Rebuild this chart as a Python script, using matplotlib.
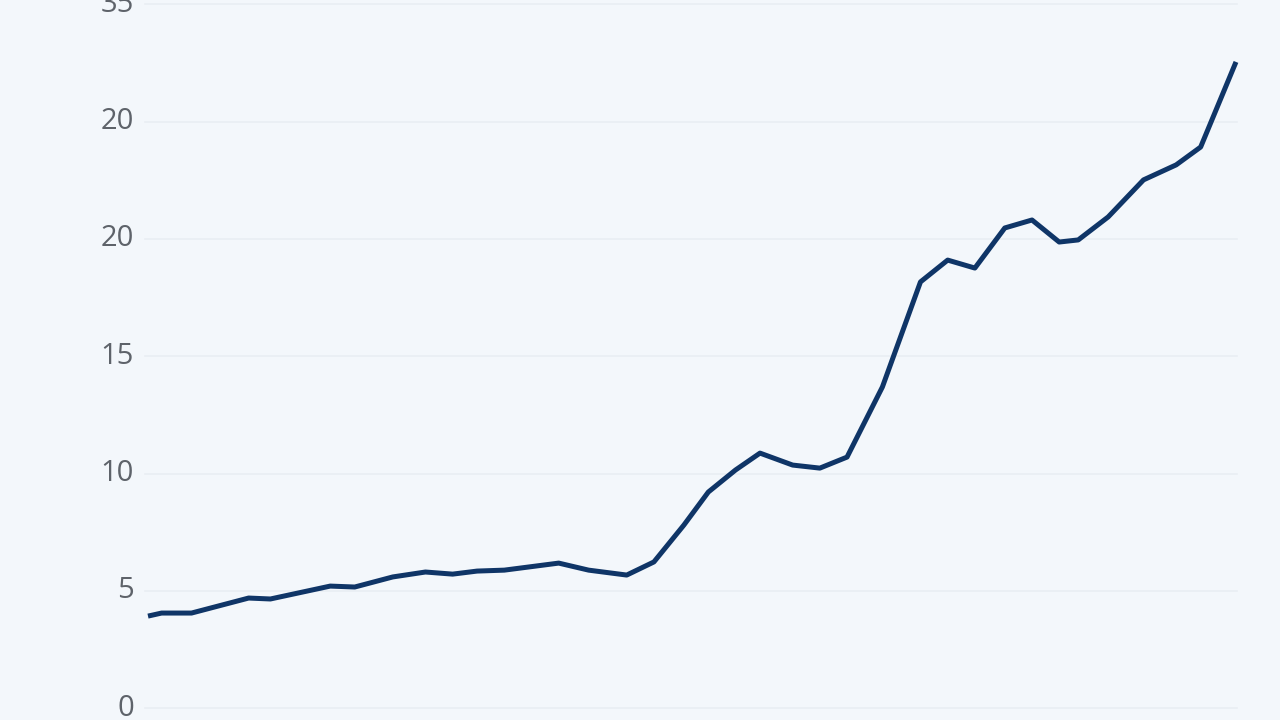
import matplotlib
matplotlib.use("Agg")
import matplotlib.pyplot as plt

# values (x as fractional years, y in units)
years = [1983.0, 1983.5, 1984.6, 1986.7, 1987.5, 1989.7, 1990.6, 1992.0, 1993.2,
         1994.2, 1995.1, 1996.1, 1998.1, 1999.2, 2000.6, 2001.6, 2002.7, 2003.6,
         2004.6, 2005.5, 2006.7, 2007.7, 2008.7, 2010.0, 2011.4, 2012.4, 2013.4,
         2014.5, 2015.5, 2016.5, 2017.2, 2018.3, 2019.6, 2020.8, 2021.7, 2023.0]
values = [3.92, 4.05, 4.05, 4.69, 4.65, 5.20, 5.16, 5.59, 5.80,
          5.71, 5.84, 5.88, 6.18, 5.88, 5.67, 6.23, 7.80, 9.21,
          10.15, 10.87, 10.36, 10.23, 10.70, 13.69, 18.17, 19.10, 18.76,
          20.47, 20.81, 19.87, 19.96, 20.94, 22.52, 23.16, 23.92, 27.55]

tick_values = [0, 5, 10, 15, 20, 25, 30]
tick_labels = ["0", "5", "10", "15", "20", "20", "35"]

bg = "#f3f7fb"
line_color = "#0f3567"
grid_color = "#e9eef3"
label_color = "#5e636a"

fig = plt.figure(figsize=(12.8, 7.2), dpi=100)
fig.patch.set_facecolor(bg)
ax = fig.add_axes([0, 0, 1, 1])
ax.set_facecolor(bg)

# 148px -> 1983, 27.2 px per year
ax.set_xlim(1983 - 148 / 27.2, 1983 + 1132 / 27.2)
ax.set_ylim(-0.51, 30.19)

for v, lab in zip(tick_values, tick_labels):
    ax.axhline(v, xmin=145 / 1280, xmax=1237 / 1280, color=grid_color, lw=1.2, zorder=1)
    ax.text(134 / 1280, v, lab, transform=ax.get_yaxis_transform(),
            ha="right", va="center", fontsize=21, color=label_color,
            family=["Open Sans", "DejaVu Sans"])

ax.plot(years, values, color=line_color, lw=3.6, solid_capstyle="butt",
        solid_joinstyle="round", zorder=3)

ax.set_xticks([])
ax.set_yticks([])
for s in ax.spines.values():
    s.set_visible(False)

fig.savefig("out.png", dpi=100, facecolor=bg)
